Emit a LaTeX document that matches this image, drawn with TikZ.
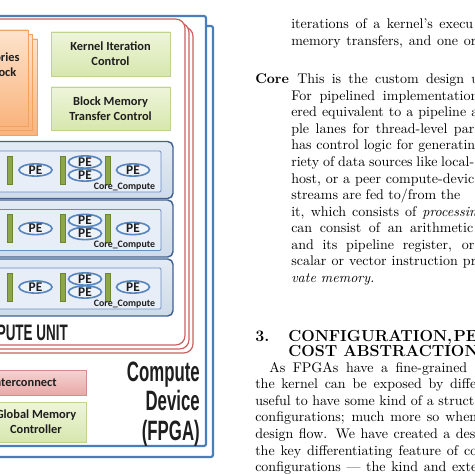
\documentclass[tikz,border=0pt]{standalone}
\usepackage{fontspec}
\usepackage{graphicx}
\usepackage{xcolor}
\usepackage{tikz}
\usetikzlibrary{shapes.geometric}
\newfontfamily\diafont{Carlito}
\newfontfamily\condfont{Liberation Sans}
\newdimen\px \px=0.75pt
\newcommand\narrow[1]{\scalebox{0.6}[1]{#1}}
\definecolor{devblue}{HTML}{4A7EBB}
\definecolor{cured}{HTML}{C8615F}
\definecolor{orangetop}{HTML}{FDE3CC}
\definecolor{orangebot}{HTML}{F9B47E}
\definecolor{orangeline}{HTML}{F3A15E}
\definecolor{greentop}{HTML}{EEF5DA}
\definecolor{greenbot}{HTML}{D7E7AE}
\definecolor{greenline}{HTML}{BFD38E}
\definecolor{redtop}{HTML}{F5D3D2}
\definecolor{redbot}{HTML}{E8A9A8}
\definecolor{redline}{HTML}{D58D8B}
\definecolor{rowtop}{HTML}{E3EBF5}
\definecolor{rowbot}{HTML}{CFDBEA}
\definecolor{rowline}{HTML}{41628F}
\definecolor{corefill}{HTML}{E8EEF7}
\definecolor{coreline}{HTML}{6B8DBF}
\definecolor{barfill}{HTML}{8DA64A}
\definecolor{barline}{HTML}{6C8530}
\definecolor{pefill}{HTML}{EEF3FA}
\definecolor{peline}{HTML}{5584BE}
\definecolor{labtext}{HTML}{1E1E1E}
\tikzset{
  devframe/.style={draw=devblue, line width=1.6pt, fill=white, rounded corners=1.5pt},
  cuframe/.style={draw=cured, line width=0.9pt, fill=white, rounded corners=7pt},
  lbl/.style={font=\diafont\bfseries\fontsize{9.3}{11.25}\selectfont, text=labtext, align=center},
  orangebox/.style={draw=orangeline, line width=0.6pt, top color=orangetop, bottom color=orangebot, inner sep=0pt, minimum width=100\px, minimum height=96\px},
  greenbox/.style={lbl, draw=greenline, line width=0.6pt, top color=greentop, bottom color=greenbot, inner sep=0pt},
  redbox/.style={lbl, draw=redline, line width=0.6pt, top color=redtop, bottom color=redbot, inner sep=0pt},
  rowbox/.style={draw=rowline, line width=1.1pt, top color=rowtop, bottom color=rowbot, rounded corners=4pt, minimum width=193\px, minimum height=57\px, inner sep=0pt},
  corebox/.style={draw=coreline, line width=0.7pt, fill=corefill, rounded corners=1pt, minimum width=176\px, minimum height=41\px, inner sep=0pt},
  pebar/.style={draw=barline, line width=0.5pt, fill=barfill, minimum width=5\px, minimum height=28\px, inner sep=0pt},
  pe/.style={ellipse, draw=peline, line width=1.2pt, fill=pefill, minimum width=33\px, minimum height=12\px, inner sep=0pt, text=labtext, font=\diafont\bfseries\fontsize{10}{10}\selectfont},
  corelab/.style={inner sep=0pt, text=labtext, font=\diafont\bfseries\fontsize{7.4}{8}\selectfont},
  bigname/.style={anchor=base east, inner sep=0pt, text=labtext, font=\condfont\bfseries\fontsize{21}{25}\selectfont},
  cutitle/.style={anchor=base east, inner sep=0pt, text=labtext, font=\condfont\bfseries\fontsize{16.8}{20}\selectfont},
  txt/.style={anchor=base west, inner sep=0pt, font=\fontsize{10.5}{12.6}\selectfont},
  head/.style={anchor=base west, inner sep=0pt, font=\fontsize{12}{14}\selectfont\bfseries}
}

\begin{document}
\begin{tikzpicture}[x=0.75pt,y=-0.75pt]
  \useasboundingbox (0,0) rectangle (474,474);
  \clip (0,0) rectangle (474,474);
  \fill[white] (0,0) rectangle (474,474);
  % compute device
  \draw[devframe] (-20,26) rectangle (213,457);
  \draw[devframe] (-27,16) rectangle (206,446);
  % compute units
  \draw[cuframe] (-22,27) rectangle (193,353);
  \draw[cuframe] (-26,23) rectangle (189,349);
  \draw[cuframe] (-30,19) rectangle (185,345);
  \node[cutitle] (cutitle) at (68,340) {\narrow{COMPUTE UNIT}};
  % local memories
  \node[orangebox] (lm3) at (-13,87) {};
  \node[orangebox] (lm2) at (-17.5,82.5) {};
  \node[orangebox] (lm1) at (-22,78) {};
  \node[lbl] (lmtext) at (-21,65.5) {Local Memories\\Memory Block};
  \node[greenbox, minimum width=119\px, minimum height=44\px] (kic) at (110.5,54) {Kernel Iteration\\Control};
  \node[greenbox, minimum width=119\px, minimum height=43\px] (bmtc) at (110.5,108.5) {Block Memory\\Transfer Control};
  % core rows
  \node[rowbox] (row1) at (76.5,170) {};
  \node[corebox] (core1) at (73,171.5) {};
  \node[pebar] (bar1a) at (9.5,170) {};
  \node[pebar] (bar1b) at (62.5,170) {};
  \node[pebar] (bar1c) at (107.5,170) {};
  \node[pe] (pe1a) at (35.5,170) {PE};
  \node[pe] (pe1b) at (85,162) {PE};
  \node[pe] (pe1c) at (85,175) {PE};
  \node[pe] (pe1d) at (133,170) {PE};
  \node[corelab] (lab1) at (124.5,187) {Core\_Compute};
  \node[rowbox] (row2) at (76.5,228.5) {};
  \node[corebox] (core2) at (73,230) {};
  \node[pebar] (bar2a) at (9.5,228.5) {};
  \node[pebar] (bar2b) at (62.5,228.5) {};
  \node[pebar] (bar2c) at (107.5,228.5) {};
  \node[pe] (pe2a) at (35.5,228.5) {PE};
  \node[pe] (pe2b) at (85,220.5) {PE};
  \node[pe] (pe2c) at (85,233.5) {PE};
  \node[pe] (pe2d) at (133,228.5) {PE};
  \node[corelab] (lab2) at (124.5,245.5) {Core\_Compute};
  \node[rowbox] (row3) at (76.5,287.5) {};
  \node[corebox] (core3) at (73,288.5) {};
  \node[pebar] (bar3a) at (9.5,287) {};
  \node[pebar] (bar3b) at (62.5,287) {};
  \node[pebar] (bar3c) at (107.5,287) {};
  \node[pe] (pe3a) at (35.5,287) {PE};
  \node[pe] (pe3b) at (85,279) {PE};
  \node[pe] (pe3c) at (85,292) {PE};
  \node[pe] (pe3d) at (133,287) {PE};
  \node[corelab] (lab3) at (124.5,304) {Core\_Compute};
  % device level blocks
  \node[redbox, minimum width=124\px, minimum height=25\px] (icon) at (24,382.5) {Interconnect};
  \node[greenbox, minimum width=100\px, minimum height=40\px] (gmc) at (36,422) {Global Memory\\Controller};
  \node[bigname] (dev1) at (200,381) {\narrow{Compute}};
  \node[bigname] (dev2) at (200,410) {\narrow{Device}};
  \node[bigname] (dev3) at (200,440) {\narrow{(FPGA)}};
  % text column
  \node[txt] (t1) at (291,29) {\makebox[182\px][s]{iterations of a kernel's execu}};
  \node[txt] (t2) at (291,45.5) {\makebox[185\px][s]{memory transfers, and one or}};
  \node[txt] (core) at (255,84) {\textbf{Core}};
  \node[txt] (t3) at (297,84) {\makebox[182\px][s]{This is the custom design u}};
  \node[txt] (t4) at (291,100.5) {\makebox[187\px][s]{For pipelined implementation}};
  \node[txt] (t5) at (291,117) {\makebox[187\px][s]{ered equivalent to a pipeline a}};
  \node[txt] (t6) at (291,133.5) {\makebox[183\px][s]{ple lanes for thread-level par}};
  \node[txt] (t7) at (291,150) {\makebox[184\px][s]{has control logic for generatin}};
  \node[txt] (t8) at (291,166.5) {\makebox[183\px][s]{riety of data sources like local-}};
  \node[txt] (t9) at (291,183) {\makebox[183\px][s]{host, or a peer compute-devic}};
  \node[txt] (t10) at (291,199.5) {\makebox[169\px][s]{streams are fed to/from the}};
  \node[txt] (t11) at (291,216) {\makebox[186\px][s]{it, which consists of \textit{processin}}};
  \node[txt] (t12) at (291,232.5) {\makebox[182\px][s]{can consist of an arithmetic}};
  \node[txt] (t13) at (291,249) {\makebox[183\px][s]{and its pipeline register, or}};
  \node[txt] (t14) at (291,265.5) {\makebox[185\px][s]{scalar or vector instruction pr}};
  \node[txt] (t15) at (291,282) {\textit{vate memory.}};
  \node[head] (hnum) at (255,341) {3.};
  \node[head] (hline1) at (288,341) {CONFIGURATION,\hspace{1pt}PERFORMANCE};
  \node[head] (hline2) at (288,356) {COST ABSTRACTION};
  \node[txt] (p1) at (269,372) {\makebox[198\px][s]{As FPGAs have a fine-grained}};
  \node[txt] (p2) at (255,388.6) {\makebox[221\px][s]{the kernel can be exposed by diffe}};
  \node[txt] (p3) at (255,405.2) {\makebox[219\px][s]{useful to have some kind of a struct}};
  \node[txt] (p4) at (255,421.8) {\makebox[222\px][s]{configurations; much more so when}};
  \node[txt] (p5) at (255,438.4) {\makebox[220\px][s]{design flow. We have created a des}};
  \node[txt] (p6) at (255,455) {\makebox[222\px][s]{the key differentiating feature of co}};
  \node[txt] (p7) at (255,471.6) {\makebox[222\px][s]{configurations --- the kind and exte}};
\end{tikzpicture}
\end{document}
